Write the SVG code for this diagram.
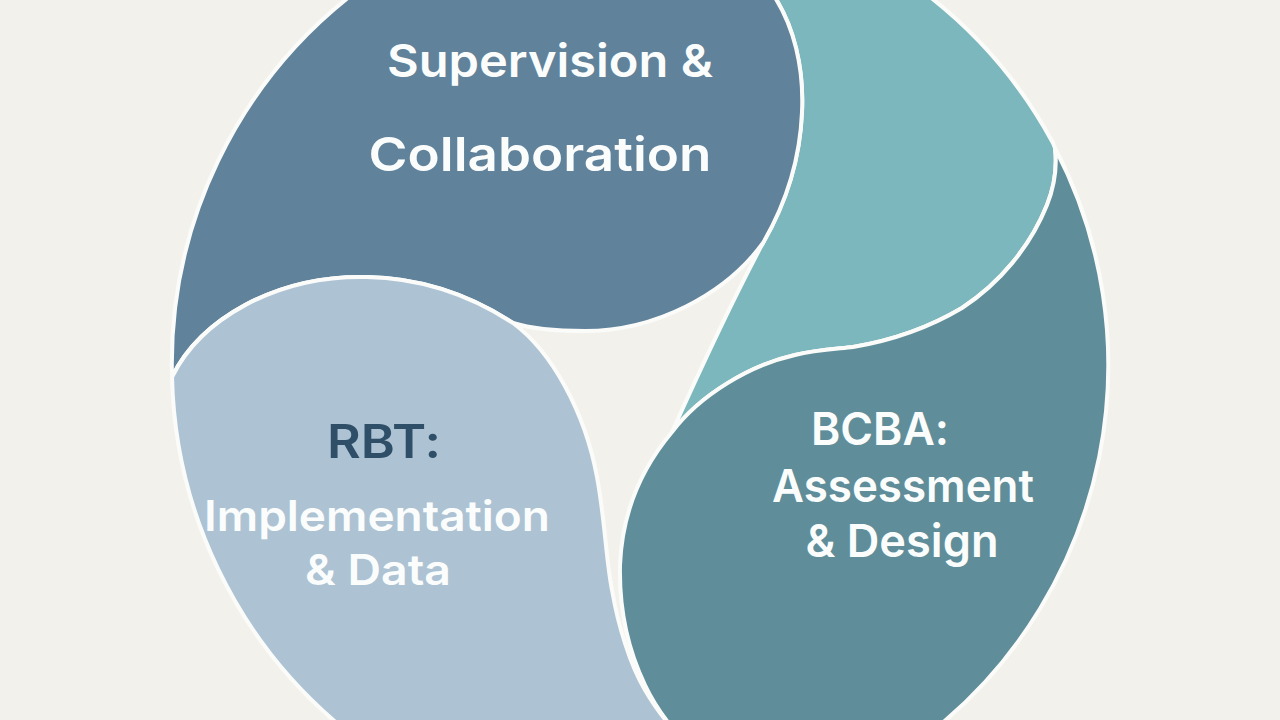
<svg xmlns="http://www.w3.org/2000/svg" width="1280" height="720" viewBox="0 0 1280 720">
<style>
.seg{stroke:#fbfcfa;stroke-width:4;stroke-linejoin:round}
text{font-family:"Inter","Noto Sans",sans-serif;font-weight:600;text-anchor:middle;font-variant-ligatures:none}
.w{fill:#fbfdfc}
</style>
<rect width="1280" height="720" fill="#f3f1ec"/>
<g id="teal-segment"><path class="seg" fill="#7bb7bc" d="M770 -10C795 25 804 70 802 112C800 160 785 205 763 243C735 295 700 370 672 432C700 395 750 365 795 355C815 350 835 349 853 347C895 340 930 327 962 308C1000 283 1030 247 1047 205C1055 185 1057 165 1055 148L1053 143A469 469 0 0 0 921 -10Z"/></g>
<g id="bcba-segment"><path class="seg" fill="#5f8e9a" d="M1055 148C1057 165 1055 185 1047 205C1030 247 1000 283 962 308C930 327 895 340 853 347C835 349 815 350 795 355C750 365 700 395 672 432C640 470 622 515 620 565C619 610 628 650 645 685C652 700 660 712 670 725L940 725A469 469 0 0 0 1055 148Z"/>
<text class="w" x="880" y="445" font-size="45" textLength="138" lengthAdjust="spacingAndGlyphs">BCBA:</text><text class="w" x="903" y="502" font-size="45" textLength="262" lengthAdjust="spacingAndGlyphs">Assessment</text><text class="w" x="902" y="557" font-size="45" textLength="193" lengthAdjust="spacingAndGlyphs">&amp; Design</text></g>
<g id="supervision-segment"><path class="seg" fill="#60829b" d="M358 -10A469 469 0 0 0 172 377C200 320 275 275 367 277C420 278 470 295 513 323C535 330 560 331 585 331C655 331 725 295 763 243C785 205 800 160 802 112C804 70 795 25 770 -10Z"/>
<text class="w" x="550" y="77" font-size="45" textLength="326" lengthAdjust="spacingAndGlyphs">Supervision &amp;</text><text class="w" x="540" y="171" font-size="47" textLength="343" lengthAdjust="spacingAndGlyphs">Collaboration</text></g>
<g id="rbt-segment"><path class="seg" fill="#adc3d4" d="M172 377C200 320 275 275 367 277C420 278 470 295 513 323C552 352 585 412 597 477C605 520 606 560 612 590C618 625 630 665 645 690C652 702 660 714 670 725L339 725A469 469 0 0 1 172 377Z"/>
<text x="384" y="458" font-size="46" fill="#2f4f68" textLength="114" lengthAdjust="spacingAndGlyphs">RBT:</text><text class="w" x="377" y="531" font-size="42" font-weight="500" textLength="346" lengthAdjust="spacingAndGlyphs">Implementation</text><text class="w" x="378" y="585" font-size="42" font-weight="500" textLength="146" lengthAdjust="spacingAndGlyphs">&amp; Data</text></g>
</svg>
